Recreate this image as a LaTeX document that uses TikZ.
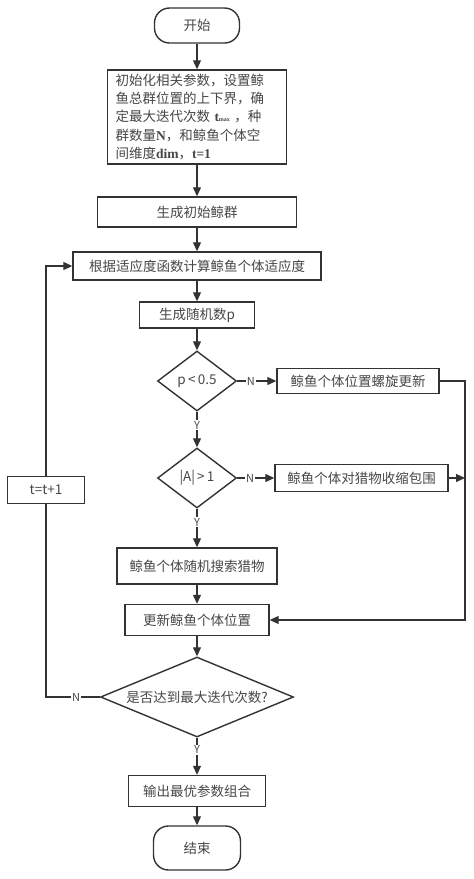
\documentclass[tikz,border=0pt]{standalone}
\usepackage{fontspec}
\setmainfont{Noto Sans CJK SC}
\newfontfamily\timesfont{Liberation Serif}
\usetikzlibrary{arrows.meta,shapes.geometric}

\begin{document}
\begin{tikzpicture}[x=1pt,y=-1pt,
  every node/.style={font=\fontsize{13.5}{18}\selectfont,text=black!72},
  box/.style={draw=black!80,line width=1.4pt,inner sep=2pt,fill=white},
  term/.style={box,rounded corners=15pt},
  cond/.style={box,diamond,aspect=1.3,inner sep=0pt},
  arr/.style={draw=black!80,line width=1.2pt,-{Triangle[length=9pt,width=8pt]}},
  line/.style={draw=black!80,line width=1.2pt},
  lbl/.style={fill=white,inner sep=1pt,font=\fontsize{11}{13}\selectfont}]
\useasboundingbox (0,0) rectangle (474,879);

\node[term,minimum width=85,minimum height=35] (start) at (197,25.5) {开始};
\node[box,minimum height=94,text width=163pt,inner xsep=8pt,align=left,
  font=\fontsize{13.5}{18.3}\selectfont] (init) at (197,117)
  {初始化相关参数，设置鲸\\鱼总群位置的上下界，确\\定最大迭代次数 {\timesfont\bfseries t{\fontsize{6}{6}\selectfont max}} ，种\\
   群数量{\timesfont\bfseries N}，和鲸鱼个体空\\间维度{\timesfont\bfseries dim}，{\timesfont\bfseries t=1}};
\node[box,minimum width=199,minimum height=30] (gen) at (197,212) {生成初始鲸群};
\node[box,minimum width=248,minimum height=28] (fit) at (197,266) {根据适应度函数计算鲸鱼个体适应度};
\node[box,minimum width=115,minimum height=26] (rand) at (197,315) {生成随机数p};
\node[cond,minimum width=79,minimum height=60] (dp) at (197,381) {p\,<\,0.5};
\node[box,minimum width=162,minimum height=25] (spiral) at (358,381) {鲸鱼个体位置螺旋更新};
\node[cond,minimum width=79,minimum height=60] (da) at (197,478) {|A|\,>\,1};
\node[box,minimum width=173,minimum height=27] (encircle) at (361.5,478) {鲸鱼个体对猎物收缩包围};
\node[box,minimum width=77,minimum height=27] (tplus) at (46,490) {t=t+1};
\node[box,minimum width=160,minimum height=36] (search) at (197,566) {鲸鱼个体随机搜索猎物};
\node[box,minimum width=144,minimum height=31] (update) at (197,620) {更新鲸鱼个体位置};
\node[cond,aspect=2.4,minimum width=193,minimum height=80] (dmax) at (197,697) {是否达到最大迭代次数?};
\node[box,minimum width=137,minimum height=31] (output) at (197,791) {输出最优参数组合};
\node[term,minimum width=87,minimum height=44] (end) at (197,848) {结束};

\coordinate (rt) at (465,381);
\coordinate (rm) at (465,478);

\draw[arr] (start) -- (init);
\draw[arr] (init) -- (gen);
\draw[arr] (gen) -- (fit);
\draw[arr] (fit) -- (rand);
\draw[arr] (rand) -- (dp);
\draw[arr] (dp.east) -- node[lbl,pos=0.35] {N} (spiral.west);
\draw[arr] (dp.south) -- node[lbl,pos=0.38] {Y} (da.north);
\draw[arr] (da.east) -- node[lbl,pos=0.35] {N} (encircle.west);
\draw[arr] (da.south) -- node[lbl,pos=0.35] {Y} (search.north);
\draw[arr] (spiral.east) -- (rt) |- (update.east);
\draw[arr] (encircle.east) -- (rm);
\draw[arr] (search) -- (update);
\draw[arr] (update) -- (dmax);
\draw[line] (dmax.west) -| node[lbl,pos=0.22] {N} (tplus.south);
\draw[arr] (tplus.north) |- (fit.west);
\draw[arr] (dmax.south) -- node[lbl,pos=0.33] {Y} (output.north);
\draw[arr] (output) -- (end);
\end{tikzpicture}
\end{document}
